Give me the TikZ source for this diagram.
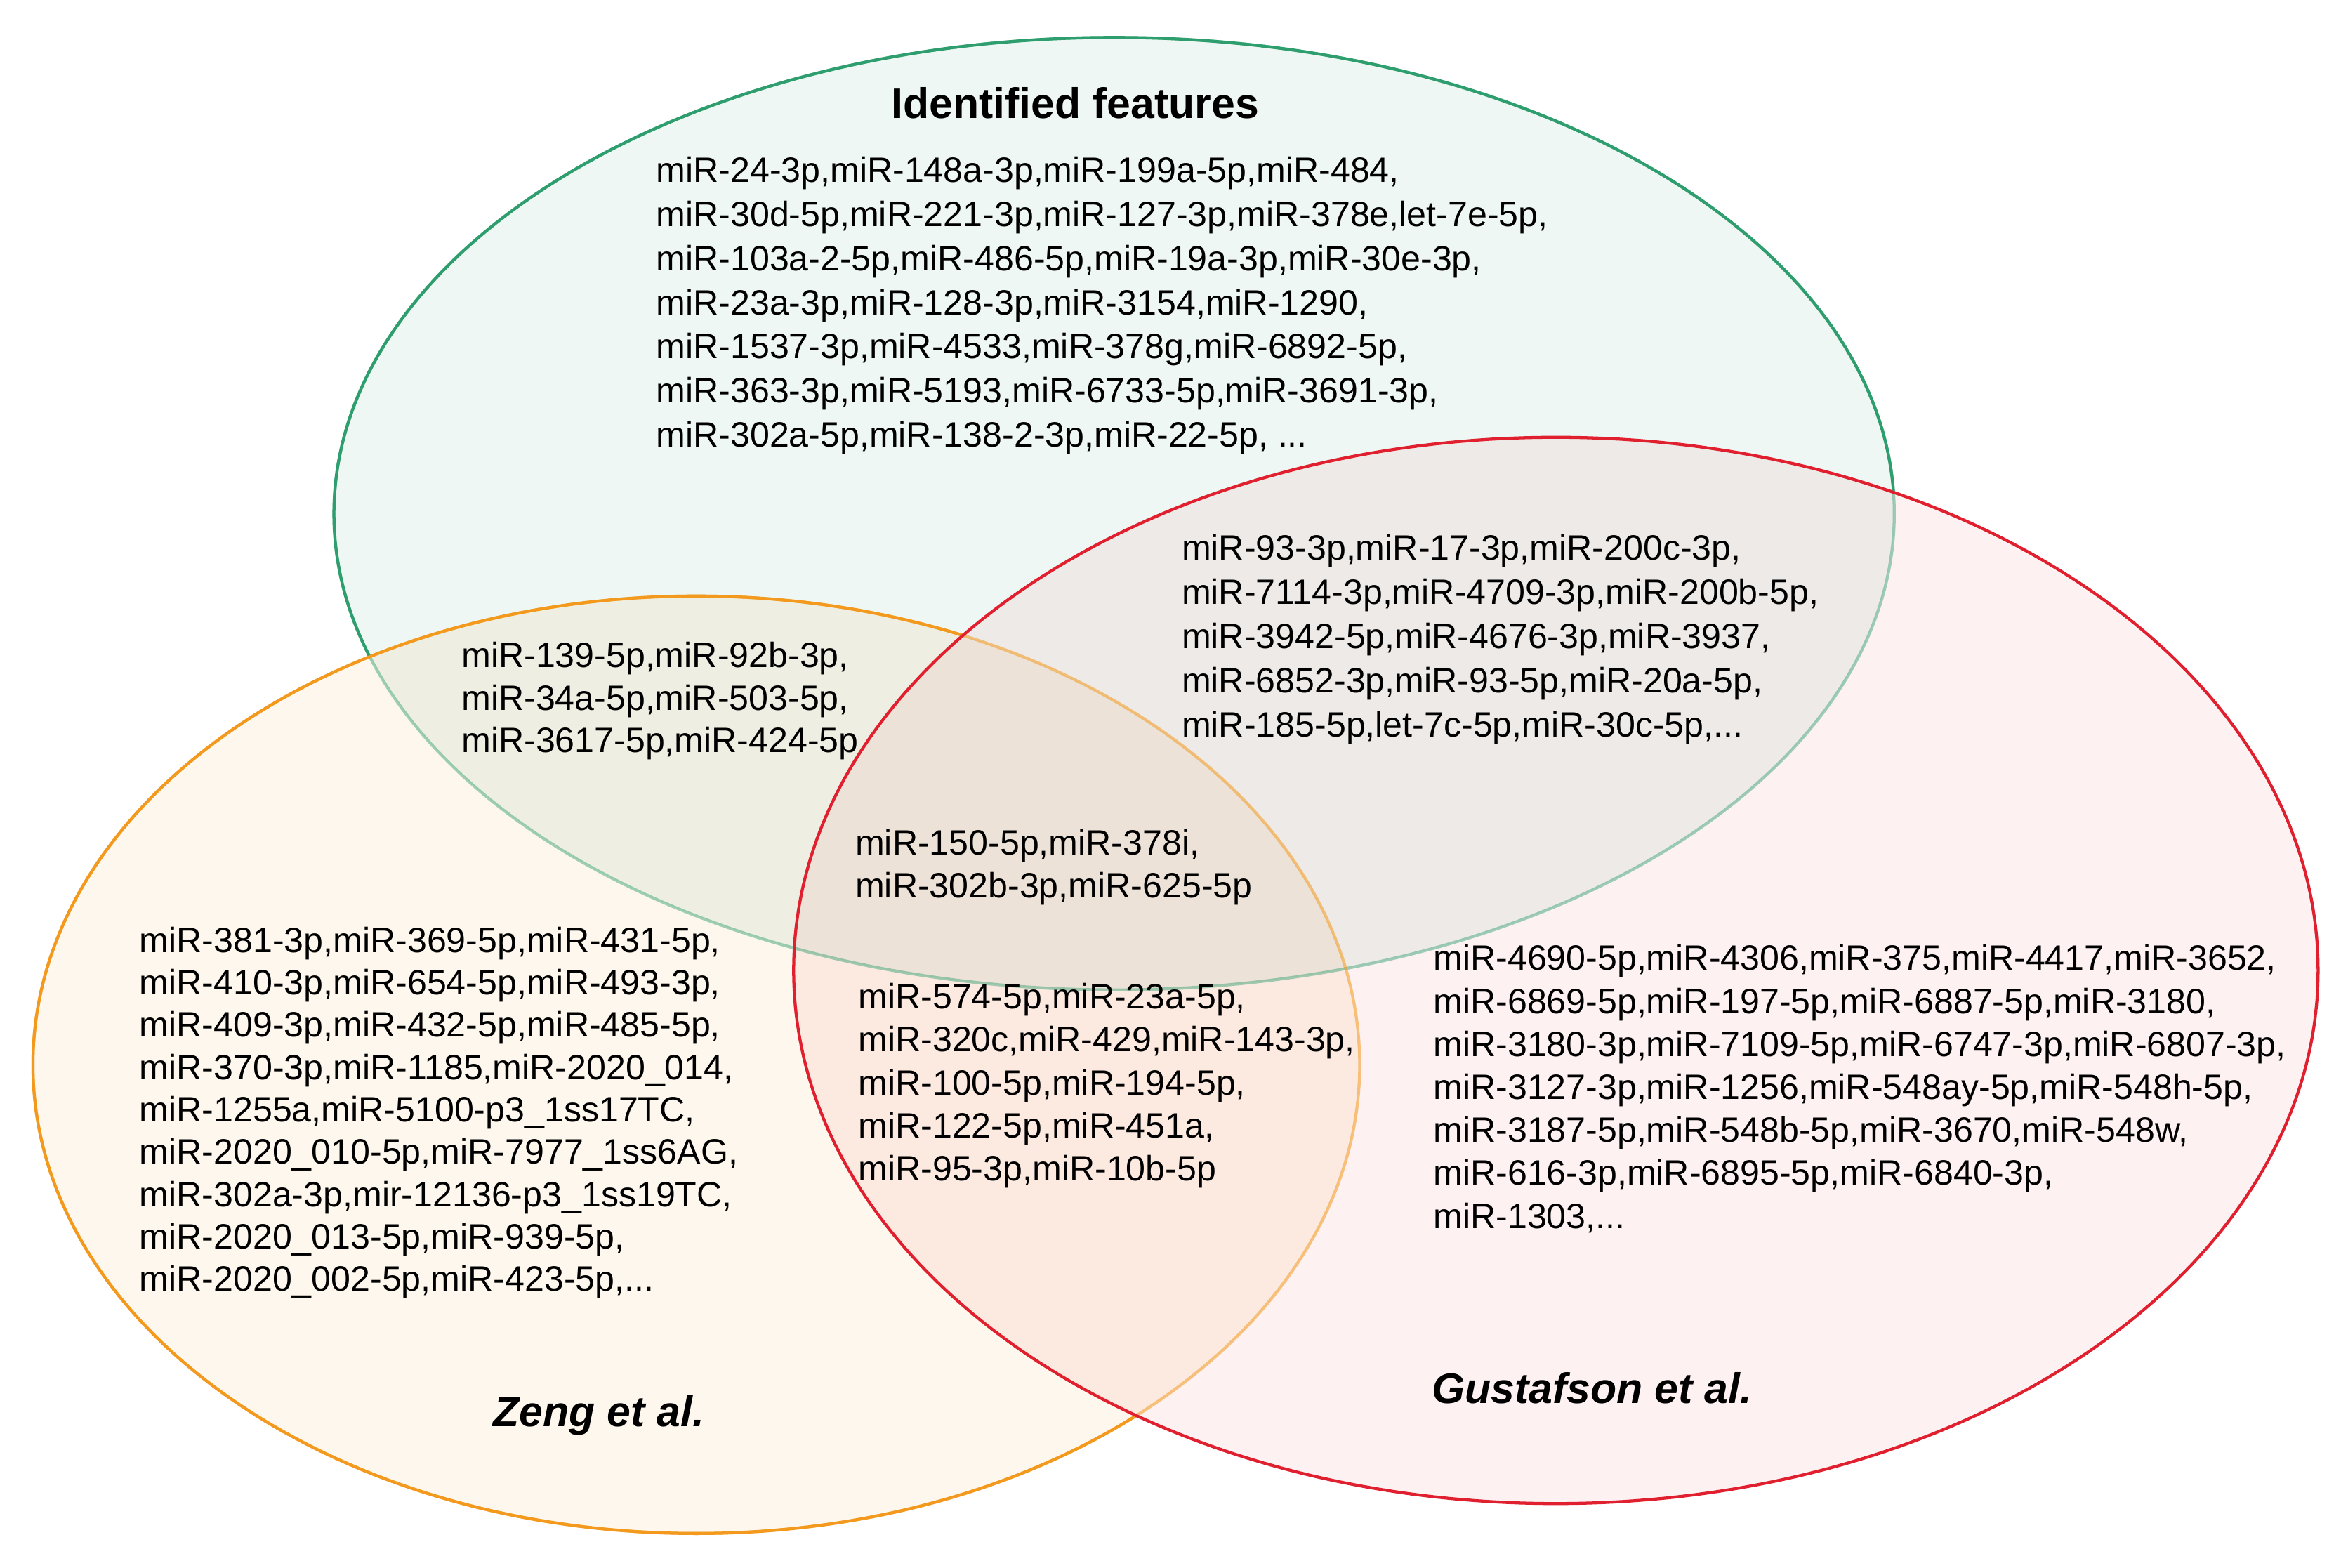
\documentclass[tikz,border=0pt]{standalone}
\usepackage{fontspec}
\setmainfont{Liberation Sans}
\definecolor{gC}{HTML}{2E9E6E}
\definecolor{oC}{HTML}{F39A1E}
\definecolor{rC}{HTML}{E0202E}
\begin{document}
\begin{tikzpicture}[x=1pt,y=-1pt,
  lst/.style={anchor=west,align=left,font=\fontsize{23.5}{29.5}\selectfont,inner sep=0pt},
  ttl/.style={font=\fontsize{28.5}{32}\selectfont\bfseries,inner sep=0pt}]
\useasboundingbox (0,0) rectangle (1568,1047);
\fill[white] (0,0) rectangle (1568,1047);
\fill[gC,fill opacity=0.08] (744,343) ellipse [x radius=521,y radius=318];
\fill[oC,fill opacity=0.08] (465,711) ellipse [x radius=443,y radius=313];
\fill[rC,fill opacity=0.06] (1039,648) ellipse [x radius=509,y radius=356];
\draw[draw=gC,line width=2pt,draw opacity=0.45] (744,343) ellipse [x radius=521,y radius=318];
\draw[draw=oC,line width=2pt,draw opacity=0.55] (465,711) ellipse [x radius=443,y radius=313];
\begin{scope}[even odd rule]
\clip (-10,-10) rectangle (1580,1060) (465,711) ellipse [x radius=443,y radius=313];
\begin{scope}[even odd rule]
\clip (-10,-10) rectangle (1580,1060) (1039,648) ellipse [x radius=509,y radius=356];
\draw[draw=gC,line width=2pt] (744,343) ellipse [x radius=521,y radius=318];
\end{scope}
\end{scope}
\begin{scope}[even odd rule]
\clip (-10,-10) rectangle (1580,1060) (1039,648) ellipse [x radius=509,y radius=356];
\draw[draw=oC,line width=2pt] (465,711) ellipse [x radius=443,y radius=313];
\end{scope}
\draw[draw=rC,line width=2pt] (1039,648) ellipse [x radius=509,y radius=356];

\node[ttl] (t1) at (718,70) {\underline{Identified features}};
\node[ttl] (t2) at (400,946) {\underline{\itshape Zeng et al.}};
\node[ttl] (t3) at (1063,928) {\underline{\itshape Gustafson et al.}};

\node[lst] (g) at (438,204) {miR-24-3p,miR-148a-3p,miR-199a-5p,miR-484,\\miR-30d-5p,miR-221-3p,miR-127-3p,miR-378e,let-7e-5p,\\miR-103a-2-5p,miR-486-5p,miR-19a-3p,miR-30e-3p,\\miR-23a-3p,miR-128-3p,miR-3154,miR-1290,\\miR-1537-3p,miR-4533,miR-378g,miR-6892-5p,\\miR-363-3p,miR-5193,miR-6733-5p,miR-3691-3p,\\miR-302a-5p,miR-138-2-3p,miR-22-5p, ...};
\node[lst] (gr) at (789,427) {miR-93-3p,miR-17-3p,miR-200c-3p,\\miR-7114-3p,miR-4709-3p,miR-200b-5p,\\miR-3942-5p,miR-4676-3p,miR-3937,\\miR-6852-3p,miR-93-5p,miR-20a-5p,\\miR-185-5p,let-7c-5p,miR-30c-5p,...};
\node[lst,font=\fontsize{23.5}{28.5}\selectfont] (go) at (308,468) {miR-139-5p,miR-92b-3p,\\miR-34a-5p,miR-503-5p,\\miR-3617-5p,miR-424-5p};
\node[lst,font=\fontsize{23.5}{28.5}\selectfont] (c) at (571,579) {miR-150-5p,miR-378i,\\miR-302b-3p,miR-625-5p};
\node[lst,font=\fontsize{23.5}{28.8}\selectfont] (or) at (573,725) {miR-574-5p,miR-23a-5p,\\miR-320c,miR-429,miR-143-3p,\\miR-100-5p,miR-194-5p,\\miR-122-5p,miR-451a,\\miR-95-3p,miR-10b-5p};
\node[lst,font=\fontsize{23.5}{28.3}\selectfont] (o) at (93,743) {miR-381-3p,miR-369-5p,miR-431-5p,\\miR-410-3p,miR-654-5p,miR-493-3p,\\miR-409-3p,miR-432-5p,miR-485-5p,\\miR-370-3p,miR-1185,miR-2020\_014,\\miR-1255a,miR-5100-p3\_1ss17TC,\\miR-2020\_010-5p,miR-7977\_1ss6AG,\\miR-302a-3p,mir-12136-p3\_1ss19TC,\\miR-2020\_013-5p,miR-939-5p,\\miR-2020\_002-5p,miR-423-5p,...};
\node[lst,font=\fontsize{23.5}{28.7}\selectfont] (r) at (957,727) {miR-4690-5p,miR-4306,miR-375,miR-4417,miR-3652,\\miR-6869-5p,miR-197-5p,miR-6887-5p,miR-3180,\\miR-3180-3p,miR-7109-5p,miR-6747-3p,miR-6807-3p,\\miR-3127-3p,miR-1256,miR-548ay-5p,miR-548h-5p,\\miR-3187-5p,miR-548b-5p,miR-3670,miR-548w,\\miR-616-3p,miR-6895-5p,miR-6840-3p,\\miR-1303,...};
\end{tikzpicture}
\end{document}
